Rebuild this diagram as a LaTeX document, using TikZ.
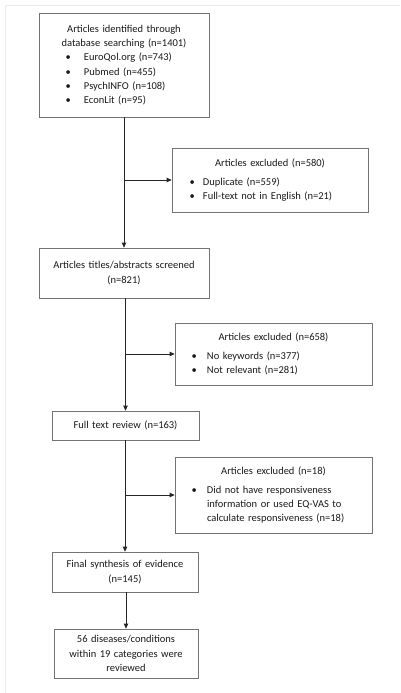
\documentclass[tikz,border=0pt]{standalone}
\usepackage{fontspec}
\setmainfont[Numbers=Lining]{Carlito}
\usetikzlibrary{arrows.meta}
\newcommand{\ctr}[2]{\makebox[#1][c]{#2}}
\newcommand{\bul}[3]{\hspace*{#1}\makebox[#2][l]{\textbullet}#3}
\begin{document}
\begin{tikzpicture}[x=1pt,y=-1pt,
  box/.style={draw=black!55,line width=0.7pt,inner xsep=0pt,inner ysep=0pt,
    align=left,font=\fontsize{10.5}{14.2}\selectfont,text=black!90},
  flow/.style={draw=black!85,line width=0.8pt,-{Triangle[length=5pt,width=4.5pt]}}]
\useasboundingbox (0,0) rectangle (400,693);
\draw[black!8,line width=0.8pt] (5,693) -- (5,5) -- (400,5);

\node[box,text width=170pt,minimum height=104pt] (b1) at (124,65)
 {\ctr{170pt}{Articles identified through}\\
  \ctr{170pt}{database searching (n=1401)}\\
  \bul{26.5pt}{18.5pt}{EuroQol.org (n=743)}\\
  \bul{26.5pt}{18.5pt}{Pubmed (n=455)}\\
  \bul{26.5pt}{18.5pt}{PsychINFO (n=108)}\\
  \bul{26.5pt}{18.5pt}{EconLit (n=95)}};

\node[box,text width=196pt,minimum height=64pt] (e1) at (270,180)
 {\ctr{196pt}{Articles excluded (n=580)}\\[5pt]
  \bul{17.5pt}{13.5pt}{Duplicate (n=559)}\\
  \bul{17.5pt}{13.5pt}{Full-text not in English (n=21)}};

\node[box,text width=170pt,minimum height=50pt] (b2) at (124,273)
 {\ctr{170pt}{Articles titles/abstracts screened}\\
  \ctr{170pt}{(n=821)}};

\node[box,text width=197pt,minimum height=62pt] (e2) at (273.5,354)
 {\ctr{197pt}{Articles excluded (n=658)}\\[5pt]
  \bul{16.5pt}{15.5pt}{No keywords (n=377)}\\
  \bul{16.5pt}{15.5pt}{Not relevant (n=281)}};

\node[box,text width=147pt,minimum height=29pt] (b3) at (125.5,425.5)
 {\ctr{147pt}{Full text review (n=163)}};

\node[box,text width=197pt,minimum height=76pt] (e3) at (273.5,495)
 {\ctr{197pt}{Articles excluded (n=18)}\\[5pt]
  \bul{16.5pt}{15.5pt}{Did not have responsiveness}\\
  \hspace*{32pt}information or used EQ-VAS to\\
  \hspace*{32pt}calculate responsiveness (n=18)};

\node[box,text width=146pt,minimum height=40pt] (b4) at (125,572)
 {\ctr{146pt}{Final synthesis of evidence}\\
  \ctr{146pt}{(n=145)}};

\node[box,text width=144pt,minimum height=49pt] (b5) at (126,653.5)
 {\ctr{144pt}{56 diseases/conditions}\\
  \ctr{144pt}{within 19 categories were}\\
  \ctr{144pt}{reviewed}};

\draw[flow] (b1.south) -- (b2.north);
\draw[flow] (b1.south |- e1.west) -- (e1.west);
\draw[flow] (b3.north |- b2.south) -- (b3.north);
\draw[flow] (b3.north |- e2.west) -- (e2.west);
\draw[flow] (b4.north |- b3.south) -- (b4.north);
\draw[flow] (b4.north |- e3.west) -- (e3.west);
\draw[flow] (b5.north |- b4.south) -- (b5.north);
\end{tikzpicture}
\end{document}
